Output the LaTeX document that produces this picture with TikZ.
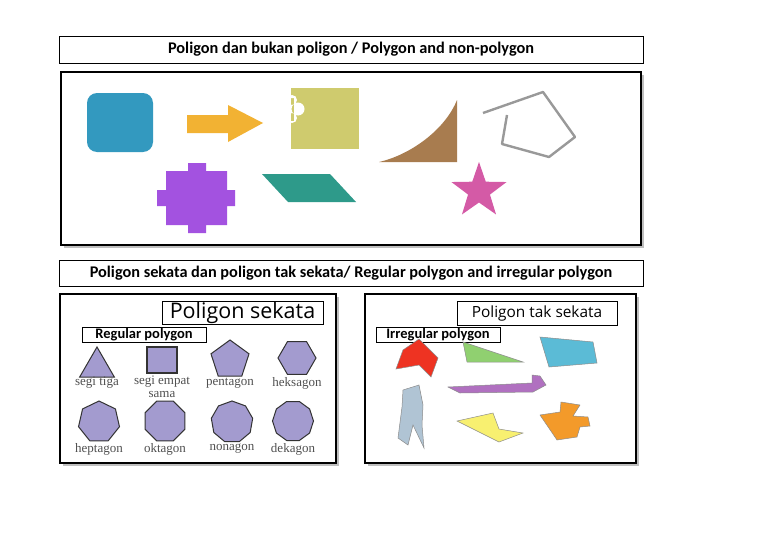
\documentclass[tikz,border=0pt]{standalone}
\usepackage{fontspec}
\setmainfont{Carlito}
\newfontfamily\namefont{Liberation Serif}
\newfontfamily\headfont{Open Sans}
\usetikzlibrary{shapes.geometric}
\definecolor{roundblue}{HTML}{3399BF}
\definecolor{arroworange}{HTML}{F2B233}
\definecolor{olive}{HTML}{CFCB6E}
\definecolor{crossviolet}{HTML}{A352E0}
\definecolor{teal}{HTML}{2E9A8A}
\definecolor{brownish}{HTML}{A87C4F}
\definecolor{starpink}{HTML}{D45AA6}
\definecolor{lavender}{HTML}{A39BCF}
\definecolor{namegray}{HTML}{505050}
\tikzset{
  titlebox/.style = {draw, line width=0.8pt, minimum width=584pt, minimum height=27pt,
    inner sep=0pt, font=\bfseries\fontsize{16.3}{18}\selectfont},
  tagbox/.style = {draw, line width=0.8pt, inner sep=0pt, font=\bfseries\fontsize{14.5}{15}\selectfont},
  headbox/.style = {draw, line width=0.8pt, inner sep=0pt, fill=white},
  frame/.style = {draw, line width=2.6pt},
  shadow/.style = {fill=black!25},
  regpoly/.style = {regular polygon, draw=black!80, line width=1pt, fill=lavender, inner sep=0pt},
  polyname/.style = {font=\namefont\fontsize{13}{10}\selectfont, text=namegray, inner sep=0pt},
  irreg/.style = {draw=black!45, line width=0.5pt}
}

\begin{document}
\begin{tikzpicture}[x=1pt,y=-1pt]
  \useasboundingbox (0,0) rectangle (768,543);
  % titles
  \node[titlebox] (title1) at (351,49.5) {Poligon dan bukan poligon / Polygon and non-polygon};
  \node[titlebox, minimum height=26pt] (title2) at (351,273) {Poligon sekata dan poligon tak sekata/ Regular polygon and irregular polygon};
  % frames
  \fill[shadow] (64,75) rectangle (644,248);
  \draw[frame,fill=white] (61,72) rectangle (641,245);
  \fill[shadow] (63,297) rectangle (339,466);
  \draw[frame,fill=white] (60,294) rectangle (336,463);
  \fill[shadow] (368,297) rectangle (639,466);
  \draw[frame,fill=white] (365,294) rectangle (636,463);
  %
  % polygon and non-polygon
  \fill[roundblue,rounded corners=10pt] (87,93) rectangle (153,152);
  \fill[arroworange] (187,115) -- (228,115) -- (228,105) -- (263,123) -- (228,142) -- (228,133) -- (187,133) -- cycle;
  \fill[olive] (291,88) rectangle (359,149);
  \fill[white] (292,100) circle (5) (298,109) circle (6.5) (292,118) circle (5) (290,98) rectangle (294,121);
  \fill[crossviolet] (188,163) -- (206,163) -- (206,171) -- (227,171) -- (227,190) -- (235,190) -- (235,206)
    -- (227,206) -- (227,225) -- (206,225) -- (206,233) -- (188,233) -- (188,225) -- (166,225) -- (166,206)
    -- (157,206) -- (157,190) -- (166,190) -- (166,171) -- (188,171) -- cycle;
  \fill[teal] (262,174) -- (330,174) -- (356,202) -- (288,202) -- cycle;
  \fill[brownish] (379,162) .. controls (410,155) and (445,130) .. (457,100) -- (457,162) -- cycle;
  \draw[black!40,line width=2.4pt,line join=round] (483,113) -- (543,92) -- (575,137) -- (549,157) -- (502,144) -- (507,115);
  \fill[starpink] (479,162) \foreach \k in {0,...,4} {
      -- ({479+11.5*cos(-54+72*\k)},{191+11.5*sin(-54+72*\k)}) -- ({479+29*cos(-18+72*\k)},{191+29*sin(-18+72*\k)})
    } -- cycle;
  %
  % regular polygons
  \node[headbox, minimum width=161pt, minimum height=23pt, font=\headfont\fontsize{21.5}{22}\selectfont] (regtitle) at (242.5,312.5) {Poligon sekata};
  \node[tagbox, minimum width=124pt, minimum height=15pt] (regtag) at (144,334.5) {Regular polygon};
  \node[regpoly, regular polygon sides=3, minimum size=40pt] (tri) at (97,367) {};
  \draw[black!80, line width=1.6pt, fill=lavender] (147,347) rectangle (177,373);
  \node[regpoly, regular polygon sides=5, minimum size=40pt] (penta) at (230,360) {};
  \node[regpoly, regular polygon sides=6, minimum size=38pt] (heksa) at (297,358) {};
  \node[regpoly, regular polygon sides=7, minimum size=42pt] (hepta) at (99,422) {};
  \node[regpoly, regular polygon sides=8, minimum size=43pt] (okta) at (165,421) {};
  \node[regpoly, regular polygon sides=9, minimum size=42pt] (nona) at (232,422) {};
  \node[regpoly, regular polygon sides=10, minimum size=41pt] (deka) at (293,421) {};
  \node[polyname] (n3) at (97,383) {segi tiga};
  \node[polyname] (n4) at (162,382) {segi empat};
  \node[polyname] (n4b) at (162,394.5) {sama};
  \node[polyname] (n5) at (230,383) {pentagon};
  \node[polyname] (n6) at (297,383) {heksagon};
  \node[polyname] (n7) at (99,449) {heptagon};
  \node[polyname] (n8) at (165,449) {oktagon};
  \node[polyname] (n9) at (232,449) {nonagon};
  \node[polyname] (n10) at (293,449) {dekagon};
  %
  % irregular polygons
  \node[headbox, minimum width=160pt, minimum height=24pt, font=\headfont\fontsize{15.4}{16}\selectfont] (irrtitle) at (537,313) {Poligon tak sekata};
  \node[tagbox, minimum width=124pt, minimum height=15pt] (irrtag) at (438,334.5) {Irregular polygon};
  \filldraw[irreg, fill={rgb,255:red,238;green,51;blue,34}] (396,369) -- (403,350) -- (419,339) -- (438,358) -- (431,377) -- (419,365) -- cycle;
  \filldraw[irreg, fill={rgb,255:red,144;green,208;blue,112}] (463,342) -- (523,362) -- (467,362) -- cycle;
  \filldraw[irreg, fill={rgb,255:red,91;green,187;blue,214}] (540,337) -- (593,342) -- (597,363) -- (549,367) -- cycle;
  \filldraw[irreg, fill={rgb,255:red,176;green,112;blue,192}] (448,387) -- (532,383) -- (532,375) -- (540,376) -- (546,385) -- (533,392) -- (460,393) -- cycle;
  \filldraw[irreg, fill={rgb,255:red,176;green,196;blue,212}] (403,390) -- (419,385) -- (423,405) -- (422,425) -- (424,448) -- (413,425) -- (408,445) -- (398,438) -- (402,407) -- cycle;
  \filldraw[irreg, fill={rgb,255:red,248;green,240;blue,112}] (457,421) -- (493,413) -- (499,429) -- (523,433) -- (499,442) -- cycle;
  \filldraw[irreg, fill={rgb,255:red,243;green,154;blue,42}] (540,415) -- (560,412) -- (561,402) -- (580,405) -- (573,416) -- (588,417) -- (590,426) -- (580,427) -- (577,437) -- (557,440) -- cycle;
\end{tikzpicture}
\end{document}
